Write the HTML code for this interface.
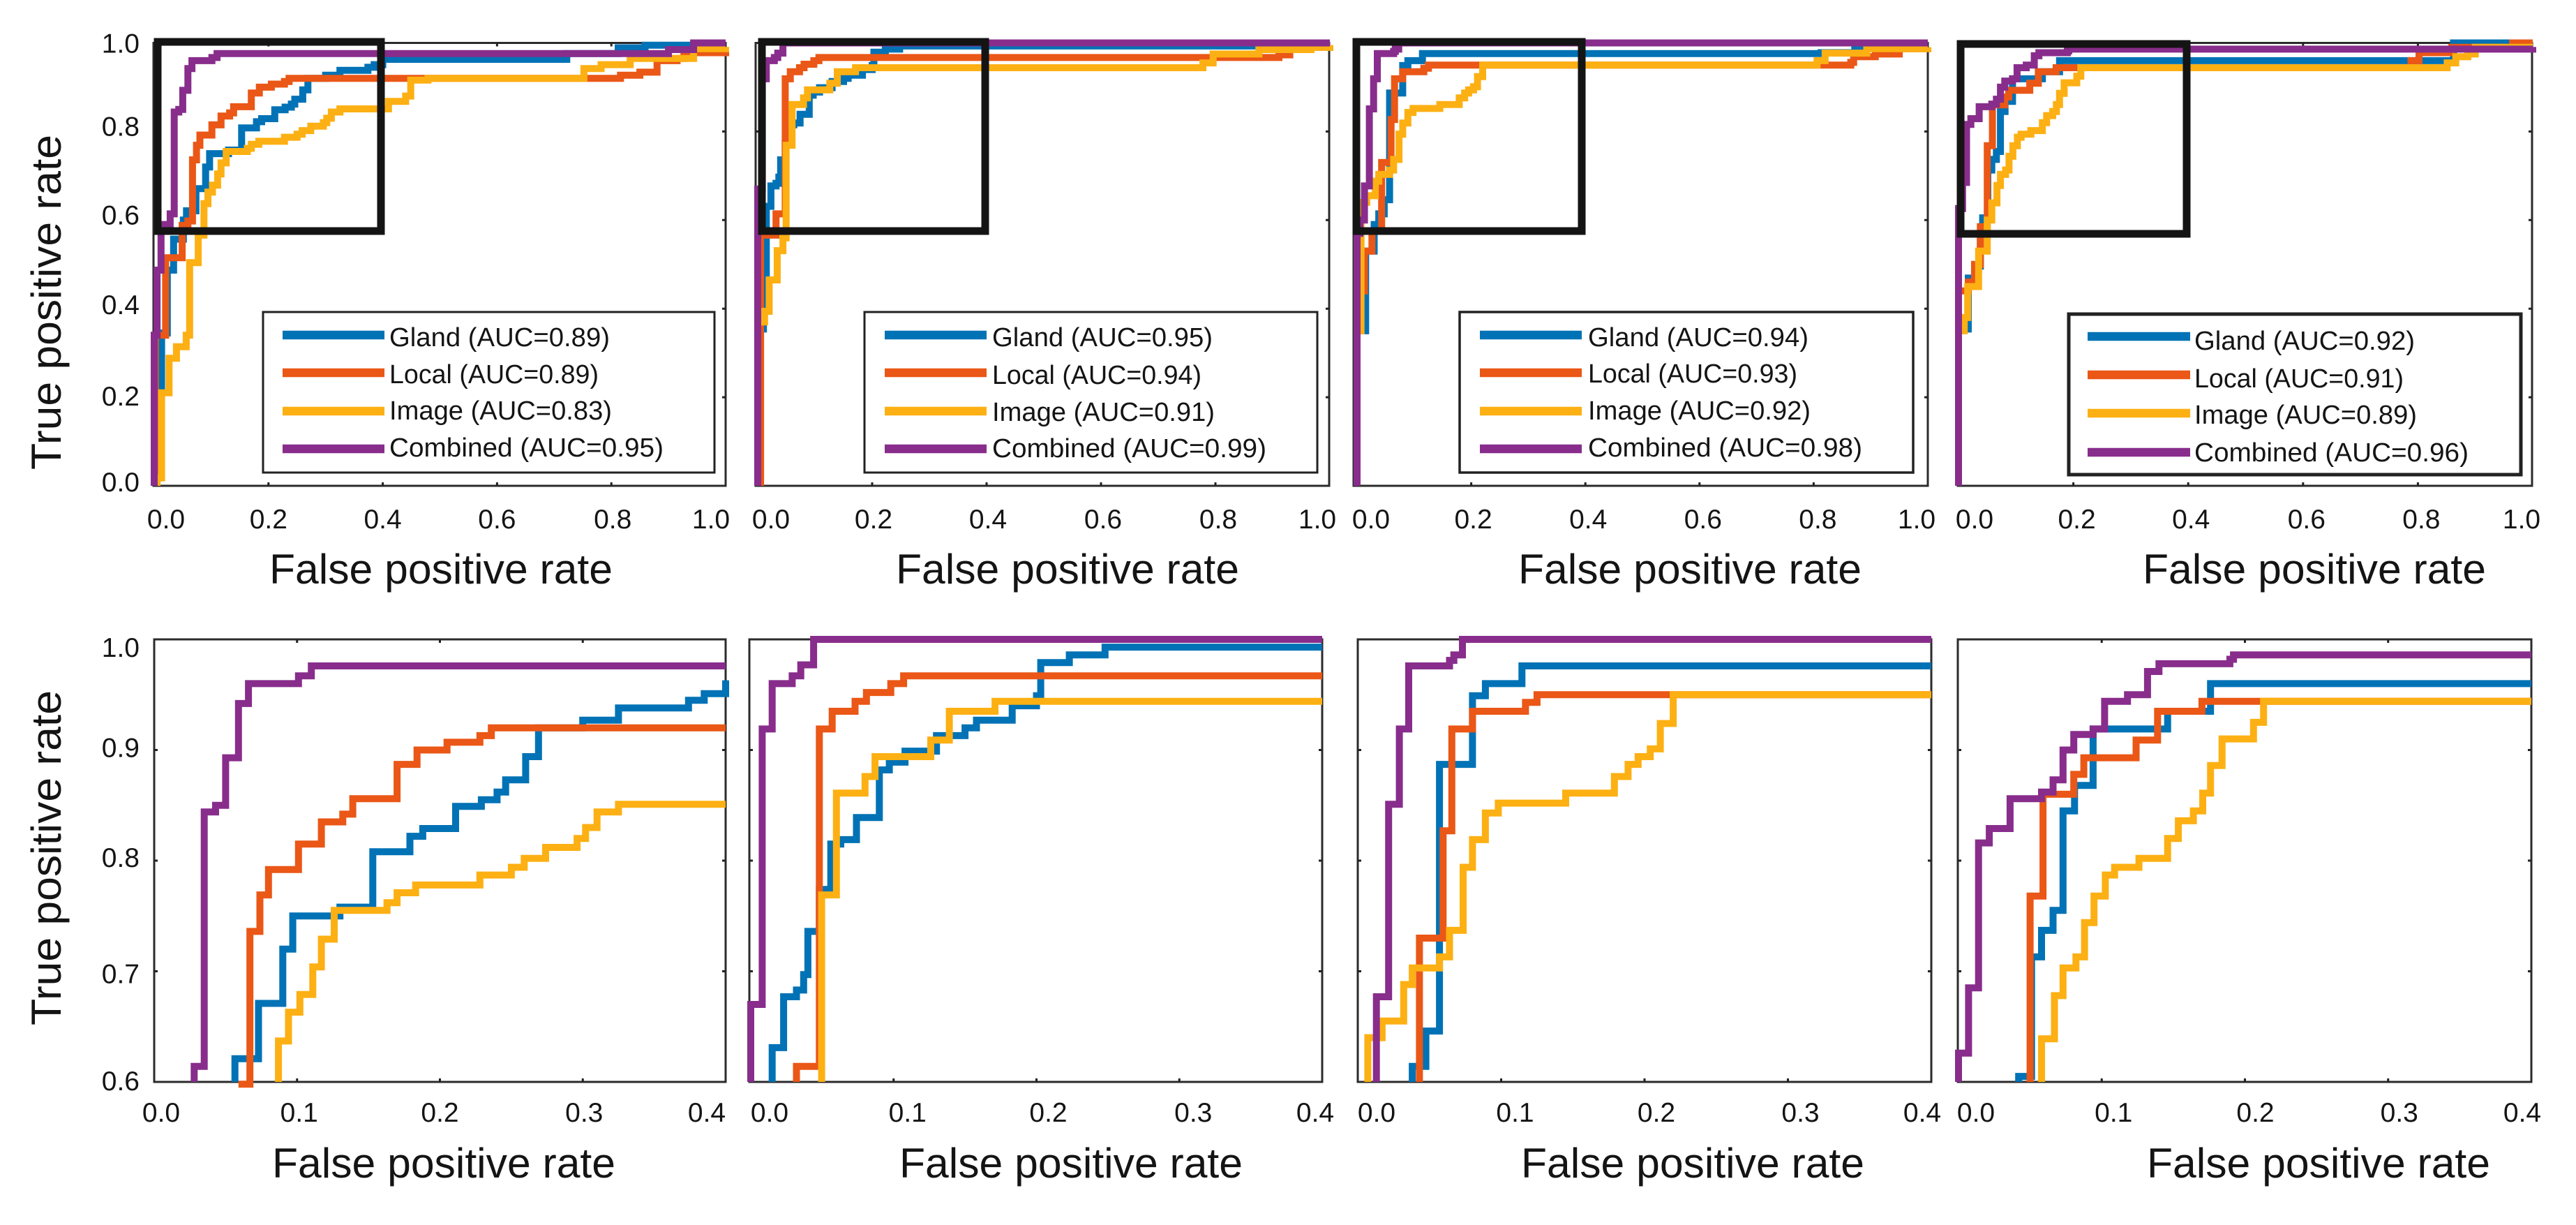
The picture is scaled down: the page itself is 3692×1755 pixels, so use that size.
<!DOCTYPE html>
<html lang="en">
<head>
<meta charset="utf-8">
<title>ROC curves</title>
<style>
html,body{margin:0;padding:0;background:#fff;}
svg{display:block;}
text{font-family:"Liberation Sans",sans-serif;fill:#141414;}
</style>
</head>
<body>
<svg id="chart" xmlns="http://www.w3.org/2000/svg" width="3692" height="1755" viewBox="0 0 3692 1755"></svg>
<script>
/* ---------- Zoomed panels: FPR 0-0.4, TPR 0.6-1.0 ---------- */
const b1GlandFpr=[.0565,.073,.090,.097,.130,.153,.179,.188,.211,.229,.240,.246,.260,.269,.300,.325,.374,.385,.400];
const b1GlandTpr=[.621,.671,.720,.750,.758,.808,.822,.829,.849,.855,.862,.873,.894,.920,.927,.938,.945,.951,.963];
const b1LocalFpr=[.059,.067,.074,.080,.101,.117,.132,.139,.170,.184,.205,.228,.236,.400];
const b1LocalTpr=[.598,.736,.769,.792,.815,.835,.842,.856,.887,.900,.907,.913,.920,.920];
const b1ImageFpr=[.087,.094,.102,.111,.117,.126,.163,.170,.183,.228,.250,.259,.274,.296,.302,.310,.325,.400];
const b1ImageTpr=[.637,.663,.679,.704,.729,.755,.762,.771,.778,.787,.794,.802,.812,.820,.830,.844,.851,.851];
const b1CombinedFpr=[.028,.035,.043,.050,.059,.066,.101,.110,.400];
const b1CombinedTpr=[.614,.844,.850,.893,.942,.960,.967,.976,.976];

const b2GlandFpr=[.015,.023,.032,.037,.040,.048,.056,.063,.074,.090,.097,.108,.130,.150,.158,.183,.200,.203,.223,.248,.400];
const b2GlandTpr=[.631,.677,.683,.697,.736,.774,.815,.819,.839,.882,.889,.899,.913,.920,.927,.940,.949,.979,.986,.993,.993];
const b2LocalFpr=[.032,.048,.057,.073,.081,.098,.107,.400];
const b2LocalTpr=[.614,.919,.935,.944,.952,.960,.967,.967];
const b2ImageFpr=[.0496,.060,.080,.087,.126,.139,.171,.400];
const b2ImageTpr=[.769,.861,.876,.894,.909,.935,.944,.944];
const b2CombinedFpr=[0,.008,.015,.029,.035,.044,.400];
const b2CombinedTpr=[.670,.919,.960,.967,.977,1,1];

const b3GlandFpr=[.038,.0475,.057,.080,.089,.1145,.400];
const b3GlandTpr=[.614,.646,.887,.949,.960,.976,.976];
const b3LocalFpr=[.043,.0595,.0656,.080,.117,.125,.400];
const b3LocalTpr=[.730,.827,.919,.935,.943,.950,.950];
const b3ImageFpr=[.007,.017,.032,.038,.057,.064,.0735,.080,.089,.098,.145,.179,.1885,.1955,.204,.211,.220,.400];
const b3ImageTpr=[.640,.655,.688,.703,.713,.737,.794,.819,.843,.852,.861,.876,.887,.894,.901,.924,.950,.950];
const b3CombinedFpr=[.013,.0215,.029,.0355,.064,.067,.073,.400];
const b3CombinedTpr=[.677,.851,.919,.976,.981,.986,1,1];

const b4GlandFpr=[.042,.051,.058,.066,.073,.081,.094,.146,.176,.400];
const b4GlandTpr=[.605,.713,.737,.755,.845,.868,.919,.935,.960,.960];
const b4LocalFpr=[.050,.059,.0805,.0875,.124,.139,.170,.400];
const b4LocalTpr=[.768,.860,.878,.893,.909,.935,.944,.944];
const b4ImageFpr=[.058,.067,.073,.082,.088,.0946,.1025,.109,.126,.146,.1535,.164,.1705,.176,.184,.206,.213,.400];
const b4ImageTpr=[.639,.678,.703,.713,.744,.768,.787,.794,.802,.820,.836,.845,.861,.886,.910,.925,.944,.944];
const b4CombinedFpr=[0,.007,.014,.0215,.036,.058,.066,.073,.0805,.094,.102,.118,.132,.140,.1895,.192,.400];
const b4CombinedTpr=[.626,.685,.816,.829,.856,.862,.873,.900,.914,.919,.944,.950,.971,.978,.982,.986,.986];

/* ---------- Full-range panels: low part + zoomed part + high part ---------- */
const o1GlandFpr=[.005,.013,.023,.034,.051,...b1GlandFpr,.722,.812,.859,1.0];
const o1GlandTpr=[.21,.345,.487,.557,.60,...b1GlandTpr,.976,.989,.995,.995];
const o1LocalFpr=[.002,.020,.049,...b1LocalFpr,.816,.85,.88,.915,.927,1.0];
const o1LocalTpr=[.34,.515,.588,...b1LocalTpr,.927,.934,.96,.965,.978,.987];
const o1ImageFpr=[.005,.013,.026,.039,.056,.062,.077,...b1ImageFpr,.41,.44,.449,.479,.752,.782,.833,.944,1.0];
const o1ImageTpr=[.018,.21,.288,.314,.34,.504,.566,...b1ImageTpr,.868,.88,.916,.92,.942,.951,.965,.987,.991];
const o1CombinedFpr=[0,.005,.012,...b1CombinedFpr,.90,.944,1.0];
const o1CombinedTpr=[.34,.487,.59,...b1CombinedTpr,.985,1.0,1.0];

const o2GlandFpr=[.003,.010,...b2GlandFpr,1.0];
const o2GlandTpr=[.354,.469,...b2GlandTpr,.993];
const o2LocalFpr=[.005,...b2LocalFpr,.911,.93,1.0];
const o2LocalTpr=[.566,...b2LocalTpr,.973,.99,.995];
const o2ImageFpr=[0,.012,.020,.034,.044,...b2ImageFpr,.778,.796,.876,.967,1.0];
const o2ImageTpr=[.37,.394,.465,.531,.56,...b2ImageTpr,.955,.975,.985,.99,.995];
const o2CombinedFpr=[...b2CombinedFpr,1.0];
const o2CombinedTpr=[...b2CombinedTpr,1.0];

const o3GlandFpr=[0,.015,.03,...b3GlandFpr,.813,.872,.9,1.0];
const o3GlandTpr=[.35,.53,.59,...b3GlandTpr,.978,.989,.995,.995];
const o3LocalFpr=[0,.013,.026,...b3LocalFpr,.865,.87,.908,.95,1.0];
const o3LocalTpr=[.44,.53,.575,...b3LocalTpr,.956,.969,.975,.987,.99];
const o3ImageFpr=[0,...b3ImageFpr,.806,.82,.893,1.0];
const o3ImageTpr=[.35,...b3ImageTpr,.96,.977,.987,.99];
const o3CombinedFpr=[0,.005,...b3CombinedFpr,1.0];
const o3CombinedTpr=[.57,.60,...b3CombinedTpr,1.0];

const o4GlandFpr=[0,.017,.028,.038,...b4GlandFpr,.802,.862,1.0];
const o4GlandTpr=[.354,.469,.496,.56,...b4GlandTpr,.96,1.0,1.0];
const o4LocalFpr=[0,.017,.028,.038,...b4LocalFpr,.788,.802,.859,.965,1.0];
const o4LocalTpr=[.44,.46,.50,.585,...b4LocalTpr,.96,.978,.99,1.0,1.0];
const o4ImageFpr=[0,.01,.016,.035,.05,...b4ImageFpr,.851,.866,.887,.9,1.0];
const o4ImageTpr=[.35,.38,.45,.53,.60,...b4ImageTpr,.955,.969,.975,.99,.99];
const o4CombinedFpr=[...b4CombinedFpr,1.0];
const o4CombinedTpr=[...b4CombinedTpr,.991];

/* ---------- Labels and printed values ---------- */
const seriesNames=['Gland','Local','Image','Combined'];
const aucPanel1=['0.89','0.89','0.83','0.95'];
const aucPanel2=['0.95','0.94','0.91','0.99'];
const aucPanel3=['0.94','0.93','0.92','0.98'];
const aucPanel4=['0.92','0.91','0.89','0.96'];
const overviewXTicks=[0,.2,.4,.6,.8,1];
const overviewXLabels=['0.0','0.2','0.4','0.6','0.8','1.0'];
const overviewYTicks=[0,.2,.4,.6,.8,1];
const overviewYLabels=['0.0','0.2','0.4','0.6','0.8','1.0'];
const zoomXTicks=[0,.1,.2,.3,.4];
const zoomXLabels=['0.0','0.1','0.2','0.3','0.4'];
const zoomYTicks=[.6,.7,.8,.9,1];
const zoomYLabels=['0.6','0.7','0.8','0.9','1.0'];

/* ---------- Layout and style ---------- */
const seriesColors=['#0072b5','#ea5716','#fdb013','#882d8c'];
const legendTextWidths=[316,300,319,393];
const svg=document.getElementById('chart');
const NS='http://www.w3.org/2000/svg';

const overviewPanels=[
 {x0:221,x1:1040,left:220,right:1040,xOff:[17,0,0,0,2,-21],
  box:[226,546,60,331],leg:[377,1024,447,677,3],legLine:[405,551],legText:558,legLineY:[480,534,589,643],legBase:[496,549,601,654],
  title:632,auc:aucPanel1,
  series:[[o1GlandFpr,o1GlandTpr],[o1LocalFpr,o1LocalTpr],[o1ImageFpr,o1ImageTpr],[o1CombinedFpr,o1CombinedTpr]]},
 {x0:1086,x1:1906,left:1083,right:1905,xOff:[19,2,2,3,4,-18],
  box:[1092,1412,60,331],leg:[1239,1888,447,677,3],legLine:[1268,1414],legText:1422,legLineY:[480,534,589,643],legBase:[496,550,603,655],
  title:1530,auc:aucPanel2,
  series:[[o2GlandFpr,o2GlandTpr],[o2LocalFpr,o2LocalTpr],[o2ImageFpr,o2ImageTpr],[o2CombinedFpr,o2CombinedTpr]]},
 {x0:1945,x1:2763,left:1940,right:2763,xOff:[20,3,4,5,6,-16],
  box:[1944,2267,60,331],leg:[2092,2742,447,677,3.5],legLine:[2121,2267],legText:2276,legLineY:[480,534,589,643],legBase:[496,548,601,654],
  title:2422,auc:aucPanel3,
  series:[[o3GlandFpr,o3GlandTpr],[o3LocalFpr,o3LocalTpr],[o3ImageFpr,o3ImageTpr],[o3CombinedFpr,o3CombinedTpr]]},
 {x0:2807,x1:3630,left:2806,right:3629,xOff:[23,5,4,5,5,-16],
  box:[2810,3134,63,335],leg:[2965,3613,450,680,5],legLine:[2992,3139],legText:3145,legLineY:[482,537,592,648],legBase:[501,555,607,661],
  title:3317,auc:aucPanel4,
  series:[[o4GlandFpr,o4GlandTpr],[o4LocalFpr,o4LocalTpr],[o4ImageFpr,o4ImageTpr],[o4CombinedFpr,o4CombinedTpr]]}
];
const zoomPanels=[
 {x0:221,x1:1040,left:221,right:1040,xOff:[10,3,0,2,-27],title:636,
  series:[[b1GlandFpr,b1GlandTpr],[b1LocalFpr,b1LocalTpr],[b1ImageFpr,b1ImageTpr],[b1CombinedFpr,b1CombinedTpr]]},
 {x0:1076,x1:1895,left:1074,right:1895,xOff:[27,20,17,20,-10],title:1535,
  series:[[b2GlandFpr,b2GlandTpr],[b2LocalFpr,b2LocalTpr],[b2ImageFpr,b2ImageTpr],[b2CombinedFpr,b2CombinedTpr]]},
 {x0:1946,x1:2768,left:1946,right:2768,xOff:[27,20,17,18,-13],title:2426,
  series:[[b3GlandFpr,b3GlandTpr],[b3LocalFpr,b3LocalTpr],[b3ImageFpr,b3ImageTpr],[b3CombinedFpr,b3CombinedTpr]]},
 {x0:2807,x1:3628,left:2806,right:3628,xOff:[25,17,15,16,-13],title:3323,
  series:[[b4GlandFpr,b4GlandTpr],[b4LocalFpr,b4LocalTpr],[b4ImageFpr,b4ImageTpr],[b4CombinedFpr,b4CombinedTpr]]}
];
const overviewRow={top:61.5,bottom:696,xMin:0,xMax:1,yMin:0,yMax:1,lineWidth:10,kind:'overview',
  xTicks:overviewXTicks,xLabels:overviewXLabels,yTicks:overviewYTicks,yLabels:overviewYLabels,
  yLabelOff:[-6,-2,-6,-8,-8,0],xLabelBase:757,titleBase:836,yTitleCenter:433};
const zoomRow={top:916,bottom:1550,xMin:0,xMax:.4,yMin:.6,yMax:1,lineWidth:10,kind:'zoom',
  xTicks:zoomXTicks,xLabels:zoomXLabels,yTicks:zoomYTicks,yLabels:zoomYLabels,
  yLabelOff:[-2,3,-5,-4,11],xLabelBase:1607,titleBase:1687,yTitleCenter:1229};

function make(tag,attrs,parent){
  const el=document.createElementNS(NS,tag);
  for(const k in attrs){el.setAttribute(k,attrs[k]);}
  parent.appendChild(el);
  return el;
}
function xScale(panel,row,v){return panel.x0+(v-row.xMin)/(row.xMax-row.xMin)*(panel.x1-panel.x0);}
function yScale(row,v){return row.bottom-(v-row.yMin)/(row.yMax-row.yMin)*(row.bottom-row.top);}
function stepPath(panel,row,fpr,tpr){
  const pts=[];
  let prev=Math.min(row.yMin,tpr[0]);
  for(let i=0;i<fpr.length;i++){
    const x=xScale(panel,row,fpr[i]).toFixed(1);
    pts.push(x+','+yScale(row,prev).toFixed(1));
    pts.push(x+','+yScale(row,tpr[i]).toFixed(1));
    prev=tpr[i];
  }
  return pts.join(' ');
}

function drawPanel(panel,row,index){
  const g=make('g',{},svg);
  
  

  const frame=make('rect',{x:panel.left,y:row.top,width:panel.right-panel.left,height:row.bottom-row.top,fill:'#fff',stroke:'#2b2b2b',"stroke-width":3},g);
  
  

  row.xTicks.forEach(function(v,i){
    const x=xScale(panel,row,v);
    if(i>0&&i<row.xTicks.length-1){
      const tb=make('path',{d:'M'+x+' '+row.bottom+'v-5M'+x+' '+row.top+'v5',stroke:'#222',"stroke-width":3,fill:'none'},g);
      
      
    }
    const t=make('text',{x:x+panel.xOff[i],y:row.xLabelBase,"text-anchor":'middle',"font-size":39},g);
    t.textContent=row.xLabels[i];
    
    
  });
  row.yTicks.forEach(function(v,i){
    const y=yScale(row,v);
    if(i>0&&i<row.yTicks.length-1){
      const tl=make('path',{d:'M'+panel.left+' '+y+'h5M'+panel.right+' '+y+'h-5',stroke:'#222',"stroke-width":3,fill:'none'},g);
      
      
    }
    if(index===0){
      const t=make('text',{x:200,y:y+row.yLabelOff[i]+14,"text-anchor":'end',"font-size":39},g);
      t.textContent=row.yLabels[i];
      
      
    }
  });

  panel.series.forEach(function(s,i){
    const line=make('polyline',{points:stepPath(panel,row,s[0],s[1]),fill:'none',stroke:seriesColors[i],"stroke-width":row.lineWidth,"stroke-linejoin":'miter'},g);
    
    
  });

  const xt=make('text',{x:panel.title,y:row.titleBase,"text-anchor":'middle',"font-size":60,textLength:492,lengthAdjust:'spacingAndGlyphs'},g);
  xt.textContent='False positive rate';
  
  

  if(index===0){
    const yt=make('text',{transform:'translate(87 '+row.yTitleCenter+') rotate(-90)',"text-anchor":'middle',"font-size":60,textLength:480,lengthAdjust:'spacingAndGlyphs'},g);
    yt.textContent='True positive rate';
    
    
  }

  if(panel.box){
    const b=panel.box;
    const zoomBox=make('rect',{x:b[0],y:b[2],width:b[1]-b[0],height:b[3]-b[2],fill:'none',stroke:'#141414',"stroke-width":11},g);
    
    
  }
  if(panel.leg){
    const L=panel.leg;
    const legend=make('g',{},g);
    
    
    const bg=make('rect',{x:L[0],y:L[2],width:L[1]-L[0],height:L[3]-L[2],fill:'#fff',stroke:'#222',"stroke-width":L[4]},legend);
    
    
    seriesNames.forEach(function(name,i){
      const key=make('line',{x1:panel.legLine[0],x2:panel.legLine[1],y1:panel.legLineY[i],y2:panel.legLineY[i],stroke:seriesColors[i],"stroke-width":12.5},legend);
      
      
      const label=make('text',{x:panel.legText,y:panel.legBase[i],"font-size":38,textLength:legendTextWidths[i],lengthAdjust:'spacingAndGlyphs'},legend);
      label.textContent=name+' (AUC='+panel.auc[i]+')';
      
      
    });
  }
}

overviewPanels.forEach(function(p,i){drawPanel(p,overviewRow,i);});
zoomPanels.forEach(function(p,i){drawPanel(p,zoomRow,i);});
</script>
</body>
</html>
